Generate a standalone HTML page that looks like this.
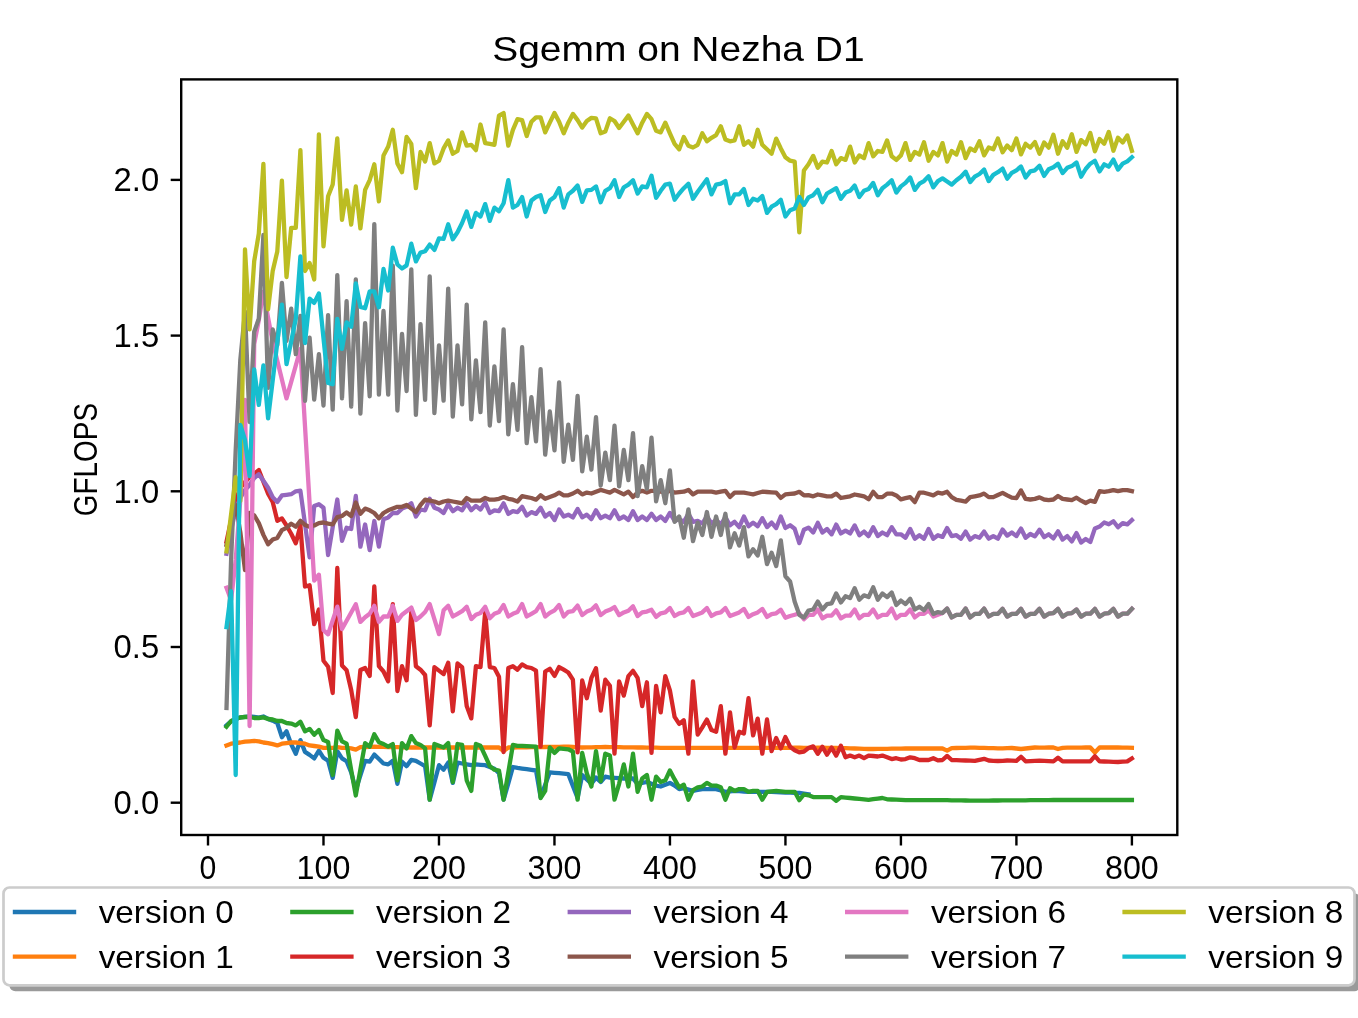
<!DOCTYPE html>
<html><head><meta charset="utf-8"><title>Sgemm on Nezha D1</title><style>html,body{margin:0;padding:0;background:#fff;width:1358px;height:1018px;overflow:hidden}</style></head><body>
<svg width="1358" height="1018" viewBox="0 0 1358 1018" style="display:block;will-change:transform">
<rect x="0" y="0" width="1358" height="1018" fill="#ffffff"/>
<defs><clipPath id="ax"><rect x="181.2" y="79.4" width="996.0999999999999" height="755.6"/></clipPath></defs>
<g clip-path="url(#ax)" fill="none" stroke-linejoin="round" stroke-linecap="square">
<polyline points="226.5,725.4 231.1,721.3 235.7,718.9 240.3,717.4 245.0,716.9 249.6,716.5 254.2,716.9 258.8,717.7 263.4,716.5 268.1,718.9 272.7,720.7 277.3,723.0 281.9,737.2 286.5,731.3 291.2,744.2 295.8,753.7 300.4,740.1 305.0,751.9 309.6,754.9 314.2,758.4 318.9,750.7 323.5,757.8 328.1,760.8 332.7,777.9 337.3,751.3 342.0,758.4 346.6,761.3 351.2,772.5 355.8,790.0 360.4,775.4 365.1,760.8 369.7,761.7 374.3,754.6 378.9,759.0 383.5,763.5 388.2,764.4 392.8,760.8 397.4,783.8 402.0,761.7 406.6,766.1 411.3,759.9 415.9,760.8 420.5,763.5 425.1,766.1 429.7,799.7 434.4,782.5 439.0,765.2 443.6,769.7 448.2,762.6 452.8,782.9 457.5,762.6 462.1,763.5 466.7,764.4 471.3,765.2 475.9,764.4 480.5,764.8 485.2,765.2 489.8,767.0 494.4,768.8 499.0,773.2 503.6,799.7 508.3,783.4 512.9,767.0 517.5,767.9 522.1,768.6 526.7,769.2 531.4,769.9 536.0,770.5 540.6,797.1 545.2,784.7 549.8,772.3 554.5,772.8 559.1,773.2 563.7,773.6 568.3,774.1 572.9,786.0 577.6,798.0 582.2,775.0 586.8,779.4 591.4,783.8 596.0,777.6 600.7,782.0 605.3,776.7 609.9,777.6 614.5,777.9 619.1,778.2 623.8,778.5 628.4,778.5 633.0,778.5 637.6,783.8 642.2,782.9 646.9,782.0 651.5,783.8 656.1,785.6 660.7,786.5 665.3,784.7 669.9,782.9 674.6,785.6 679.2,789.1 683.8,788.2 688.4,789.6 693.0,790.9 697.7,790.0 702.3,789.1 706.9,789.1 711.5,789.1 716.1,789.1 720.8,790.4 725.4,791.8 730.0,791.3 734.6,790.9 739.2,791.2 743.9,791.5 748.5,791.8 753.1,791.8 757.7,791.8 762.3,791.8 767.0,791.8 771.6,791.9 776.2,792.1 780.8,792.3 785.4,792.5 790.1,792.6 794.7,792.8 799.3,793.0 803.9,793.7 808.5,794.4" stroke="#1f77b4" stroke-width="4.3"/>
<polyline points="226.5,745.4 231.1,743.7 235.7,743.1 240.3,742.5 245.0,741.7 249.6,741.3 254.2,740.9 258.8,741.3 263.4,742.5 268.1,743.1 272.7,744.2 277.3,745.4 281.9,743.7 286.5,743.1 291.2,742.5 295.8,742.5 300.4,743.1 305.0,743.7 309.6,745.4 314.2,746.0 318.9,746.6 323.5,747.8 328.1,747.8 332.7,747.8 337.3,747.2 342.0,747.8 346.6,747.8 351.2,748.4 355.8,749.6 360.4,747.2 365.1,747.0 369.7,746.8 374.3,746.7 378.9,746.8 383.5,746.9 388.2,747.0 392.8,747.1 397.4,747.2 402.0,747.3 406.6,747.4 411.3,747.5 415.9,747.5 420.5,747.5 425.1,747.5 429.7,747.5 434.4,747.5 439.0,747.5 443.6,747.5 448.2,747.5 452.8,747.5 457.5,747.5 462.1,747.5 466.7,747.5 471.3,747.5 475.9,747.5 480.5,747.5 485.2,747.5 489.8,747.5 494.4,747.5 499.0,747.5 503.6,751.1 508.3,747.5 512.9,747.5 517.5,747.4 522.1,747.3 526.7,747.3 531.4,747.2 536.0,747.1 540.6,747.1 545.2,747.0 549.8,746.9 554.5,746.9 559.1,746.8 563.7,746.7 568.3,746.7 572.9,747.0 577.6,747.3 582.2,747.5 586.8,747.4 591.4,747.3 596.0,747.2 600.7,747.1 605.3,747.0 609.9,747.1 614.5,747.2 619.1,747.2 623.8,747.3 628.4,747.3 633.0,747.4 637.6,747.5 642.2,747.5 646.9,747.6 651.5,747.6 656.1,747.7 660.7,747.8 665.3,747.8 669.9,747.9 674.6,747.9 679.2,747.9 683.8,747.9 688.4,747.9 693.0,747.9 697.7,747.9 702.3,747.9 706.9,747.9 711.5,747.9 716.1,747.9 720.8,747.9 725.4,747.9 730.0,747.9 734.6,747.9 739.2,747.9 743.9,747.9 748.5,747.9 753.1,747.9 757.7,747.9 762.3,747.9 767.0,747.9 771.6,747.9 776.2,747.9 780.8,747.9 785.4,747.8 790.1,747.8 794.7,747.7 799.3,747.6 803.9,747.8 808.5,747.9 813.2,747.8 817.8,747.6 822.4,747.7 827.0,747.8 831.6,747.9 836.2,748.0 840.9,748.1 845.5,748.1 850.1,748.3 854.7,748.5 859.3,748.7 864.0,748.9 868.6,749.0 873.2,749.0 877.8,748.9 882.4,748.8 887.1,748.8 891.7,748.7 896.3,748.6 900.9,748.6 905.5,748.5 910.2,748.5 914.8,748.5 919.4,748.5 924.0,748.5 928.6,748.5 933.3,748.5 937.9,748.5 942.5,748.5 947.1,750.6 951.7,748.1 956.4,748.0 961.0,747.9 965.6,747.8 970.2,747.7 974.8,747.6 979.5,747.8 984.1,747.9 988.7,748.1 993.3,748.2 997.9,748.4 1002.6,748.3 1007.2,748.1 1011.8,748.0 1016.4,748.5 1021.0,749.0 1025.6,748.5 1030.3,748.0 1034.9,747.5 1039.5,747.6 1044.1,747.6 1048.7,747.5 1053.4,747.5 1058.0,749.0 1062.6,747.8 1067.2,747.7 1071.8,747.7 1076.5,747.6 1081.1,747.6 1085.7,747.5 1090.3,747.5 1094.9,752.5 1099.6,747.5 1104.2,747.5 1108.8,747.5 1113.4,747.5 1118.0,747.5 1122.7,747.6 1127.3,747.7 1131.9,747.8" stroke="#ff7f0e" stroke-width="4.3"/>
<polyline points="226.5,726.6 231.1,721.0 235.7,719.0 240.3,717.5 245.0,717.0 249.6,717.0 254.2,718.0 258.8,718.0 263.4,717.4 268.1,719.0 272.7,719.5 277.3,721.0 281.9,721.0 286.5,723.0 291.2,723.6 295.8,725.4 300.4,721.8 305.0,731.3 309.6,728.9 314.2,734.8 318.9,730.1 323.5,740.1 328.1,741.9 332.7,774.9 337.3,730.7 342.0,741.3 346.6,743.7 351.2,770.0 355.8,795.5 360.4,769.3 365.1,743.1 369.7,746.7 374.3,734.3 378.9,742.2 383.5,744.0 388.2,746.7 392.8,744.0 397.4,780.3 402.0,743.1 406.6,748.4 411.3,736.1 415.9,743.1 420.5,744.9 425.1,748.4 429.7,799.7 434.4,744.0 439.0,745.8 443.6,747.5 448.2,743.1 452.8,782.0 457.5,744.0 462.1,744.9 466.7,780.3 471.3,790.9 475.9,744.0 480.5,745.8 485.2,755.9 489.8,766.1 494.4,769.7 499.0,770.5 503.6,799.7 508.3,772.3 512.9,744.9 517.5,745.8 522.1,745.8 526.7,746.1 531.4,746.4 536.0,746.7 540.6,798.0 545.2,790.9 549.8,747.5 554.5,752.9 559.1,748.4 563.7,748.9 568.3,749.3 572.9,751.5 577.6,799.7 582.2,752.9 586.8,773.2 591.4,786.5 596.0,751.1 600.7,781.2 605.3,753.7 609.9,755.5 614.5,799.7 619.1,783.8 623.8,764.4 628.4,786.5 633.0,753.7 637.6,791.8 642.2,778.5 646.9,775.0 651.5,799.7 656.1,776.7 660.7,782.0 665.3,780.3 669.9,770.5 674.6,779.4 679.2,787.3 683.8,784.7 688.4,799.7 693.0,790.0 697.7,787.3 702.3,786.5 706.9,782.9 711.5,785.6 716.1,785.6 720.8,787.3 725.4,799.7 730.0,788.2 734.6,790.9 739.2,789.1 743.9,789.1 748.5,791.8 753.1,790.9 757.7,790.9 762.3,799.7 767.0,791.8 771.6,791.3 776.2,790.9 780.8,791.3 785.4,791.8 790.1,791.8 794.7,791.8 799.3,800.2 803.9,794.5 808.5,795.3 813.2,797.1 817.8,797.1 822.4,797.1 827.0,797.1 831.6,797.1 836.2,800.7 840.9,797.1 845.5,797.6 850.1,798.0 854.7,798.5 859.3,798.9 864.0,799.3 868.6,799.8 873.2,799.2 877.8,798.6 882.4,798.0 887.1,799.3 891.7,799.5 896.3,799.7 900.9,799.9 905.5,800.1 910.2,800.1 914.8,800.1 919.4,800.1 924.0,800.1 928.6,800.1 933.3,800.1 937.9,800.1 942.5,800.1 947.1,800.2 951.7,800.3 956.4,800.4 961.0,800.4 965.6,800.5 970.2,800.6 974.8,800.7 979.5,800.6 984.1,800.6 988.7,800.6 993.3,800.5 997.9,800.5 1002.6,800.4 1007.2,800.4 1011.8,800.4 1016.4,800.3 1021.0,800.3 1025.6,800.3 1030.3,800.2 1034.9,800.2 1039.5,800.1 1044.1,800.1 1048.7,800.1 1053.4,800.0 1058.0,800.0 1062.6,800.0 1067.2,800.0 1071.8,800.0 1076.5,800.0 1081.1,800.0 1085.7,800.0 1090.3,800.0 1094.9,800.0 1099.6,800.0 1104.2,800.0 1108.8,800.0 1113.4,800.0 1118.0,800.0 1122.7,800.0 1127.3,800.0 1131.9,800.0" stroke="#2ca02c" stroke-width="4.3"/>
<polyline points="226.5,541.6 231.1,520.0 235.7,500.0 240.3,488.0 245.0,482.0 249.6,477.0 254.2,474.0 258.8,470.0 263.4,481.8 268.1,493.6 272.7,501.9 277.3,520.8 281.9,518.4 286.5,525.5 291.2,533.7 295.8,543.2 300.4,525.5 305.0,586.5 309.6,585.3 314.2,624.2 318.9,609.5 323.5,660.8 328.1,666.7 332.7,693.0 337.3,568.0 342.0,665.5 346.6,670.2 351.2,690.0 355.8,717.1 360.4,670.0 365.1,668.0 369.7,675.9 374.3,586.4 378.9,666.2 383.5,671.5 388.2,681.2 392.8,604.1 397.4,691.0 402.0,666.2 406.6,680.3 411.3,612.0 415.9,666.2 420.5,669.7 425.1,675.0 429.7,725.4 434.4,667.1 439.0,670.6 443.6,674.1 448.2,662.7 452.8,711.3 457.5,663.5 462.1,667.1 466.7,706.0 471.3,718.4 475.9,666.2 480.5,667.1 485.2,612.0 489.8,667.1 494.4,668.0 499.0,676.8 503.6,752.0 508.3,668.0 512.9,666.2 517.5,669.7 522.1,664.4 526.7,667.1 531.4,668.0 536.0,670.6 540.6,746.7 545.2,671.5 549.8,668.8 554.5,675.9 559.1,667.1 563.7,669.7 568.3,672.5 572.9,679.6 577.6,752.4 582.2,680.5 586.8,698.2 591.4,677.9 596.0,668.2 600.7,710.6 605.3,679.7 609.9,685.8 614.5,753.7 619.1,681.4 623.8,695.6 628.4,676.1 633.0,670.8 637.6,677.9 642.2,706.2 646.9,682.3 651.5,752.9 656.1,685.8 660.7,712.4 665.3,676.1 669.9,690.3 674.6,716.8 679.2,723.9 683.8,720.3 688.4,753.7 693.0,681.4 697.7,734.5 702.3,727.4 706.9,719.5 711.5,730.1 716.1,731.8 720.8,706.2 725.4,753.7 730.0,712.4 734.6,747.5 739.2,731.8 743.9,733.6 748.5,698.2 753.1,735.4 757.7,718.6 762.3,753.7 767.0,719.5 771.6,751.1 776.2,738.0 780.8,748.4 785.4,737.1 790.1,746.7 794.7,750.2 799.3,752.4 803.9,751.6 808.5,748.0 813.2,746.4 817.8,753.8 822.4,746.7 827.0,754.7 831.6,747.6 836.2,755.6 840.9,745.8 845.5,757.3 850.1,755.6 854.7,757.3 859.3,755.6 864.0,758.2 868.6,755.6 873.2,756.0 877.8,756.5 882.4,755.6 887.1,757.3 891.7,759.1 896.3,758.2 900.9,759.5 905.5,759.1 910.2,757.3 914.8,758.2 919.4,760.0 924.0,760.0 928.6,760.0 933.3,758.2 937.9,760.4 942.5,760.0 947.1,755.9 951.7,760.0 956.4,760.2 961.0,760.4 965.6,760.5 970.2,760.7 974.8,760.9 979.5,759.8 984.1,758.8 988.7,760.5 993.3,760.8 997.9,761.0 1002.6,760.8 1007.2,760.5 1011.8,760.7 1016.4,760.8 1021.0,756.8 1025.6,761.3 1030.3,761.1 1034.9,760.9 1039.5,760.7 1044.1,760.9 1048.7,761.1 1053.4,761.4 1058.0,757.8 1062.6,761.4 1067.2,761.4 1071.8,761.4 1076.5,761.4 1081.1,761.4 1085.7,761.4 1090.3,761.4 1094.9,756.1 1099.6,761.4 1104.2,761.5 1108.8,761.7 1113.4,761.8 1118.0,762.0 1122.7,761.7 1127.3,761.4 1131.9,758.4" stroke="#d62728" stroke-width="4.3"/>
<polyline points="226.5,553.8 231.1,530.0 235.7,510.0 240.3,498.0 245.0,490.0 249.6,485.0 254.2,478.0 258.8,474.2 263.4,480.7 268.1,487.7 272.7,497.2 277.3,501.9 281.9,495.4 286.5,494.8 291.2,494.2 295.8,491.3 300.4,490.7 305.0,524.0 309.6,557.3 314.2,506.0 318.9,504.2 323.5,507.8 328.1,555.0 332.7,527.2 337.3,499.5 342.0,540.8 346.6,527.8 351.2,529.0 355.8,496.0 360.4,546.7 365.1,524.5 369.7,550.1 374.3,521.0 378.9,546.6 383.5,519.2 388.2,517.4 392.8,513.0 397.4,513.0 402.0,508.6 406.6,506.8 411.3,503.3 415.9,516.5 420.5,509.5 425.1,510.3 429.7,498.8 434.4,507.7 439.0,509.5 443.6,513.0 448.2,504.1 452.8,511.2 457.5,507.7 462.1,510.3 466.7,503.3 471.3,510.3 475.9,505.9 480.5,509.5 485.2,502.4 489.8,513.0 494.4,510.3 499.0,511.2 503.6,503.3 508.3,513.9 512.9,511.2 517.5,512.1 522.1,506.8 526.7,515.6 531.4,512.1 536.0,513.9 540.6,507.7 545.2,516.5 549.8,513.0 554.5,520.1 559.1,509.5 563.7,516.5 568.3,514.7 572.9,517.4 577.6,509.0 582.2,517.3 586.8,514.7 591.4,519.1 596.0,510.3 600.7,518.2 605.3,515.6 609.9,518.2 614.5,510.3 619.1,519.1 623.8,516.5 628.4,520.0 633.0,511.2 637.6,520.0 642.2,516.5 646.9,520.0 651.5,513.8 656.1,520.0 660.7,516.5 665.3,520.9 669.9,512.9 674.6,520.9 679.2,519.1 683.8,521.8 688.4,513.8 693.0,521.8 697.7,520.9 702.3,523.5 706.9,516.5 711.5,523.5 716.1,520.0 720.8,524.4 725.4,517.3 730.0,525.3 734.6,521.8 739.2,527.1 743.9,516.5 748.5,526.2 753.1,522.6 757.7,526.2 762.3,518.2 767.0,527.1 771.6,522.6 776.2,528.0 780.8,516.5 785.4,528.0 790.1,525.3 794.7,528.8 799.3,543.1 803.9,529.8 808.5,527.6 813.2,532.5 817.8,522.8 822.4,532.5 827.0,529.0 831.6,534.3 836.2,524.6 840.9,533.4 845.5,530.7 850.1,533.4 854.7,525.4 859.3,535.2 864.0,531.6 868.6,536.1 873.2,527.2 877.8,536.1 882.4,532.5 887.1,535.2 891.7,527.2 896.3,534.3 900.9,534.3 905.5,537.8 910.2,529.0 914.8,538.7 919.4,535.2 924.0,538.7 928.6,529.0 933.3,538.7 937.9,535.2 942.5,536.9 947.1,528.1 951.7,536.1 956.4,535.2 961.0,538.7 965.6,531.6 970.2,539.6 974.8,536.1 979.5,537.8 984.1,531.6 988.7,538.7 993.3,536.1 997.9,538.7 1002.6,529.6 1007.2,535.6 1011.8,532.5 1016.4,536.1 1021.0,528.5 1025.6,537.8 1030.3,534.0 1034.9,536.4 1039.5,529.7 1044.1,537.2 1048.7,534.3 1053.4,538.4 1058.0,531.3 1062.6,539.6 1067.2,536.1 1071.8,541.4 1076.5,533.1 1081.1,542.5 1085.7,539.0 1090.3,542.0 1094.9,528.4 1099.6,526.6 1104.2,522.5 1108.8,524.3 1113.4,521.3 1118.0,527.2 1122.7,523.1 1127.3,524.3 1131.9,520.1" stroke="#9467bd" stroke-width="4.3"/>
<polyline points="226.5,545.0 231.1,525.0 235.7,505.0 240.3,532.0 245.0,570.0 249.6,513.0 254.2,515.4 258.8,523.1 263.4,534.9 268.1,544.3 272.7,539.6 277.3,537.9 281.9,530.2 286.5,527.8 291.2,523.7 295.8,526.7 300.4,520.8 305.0,524.9 309.6,526.7 314.2,525.5 318.9,523.1 323.5,522.5 328.1,523.7 332.7,524.3 337.3,517.2 342.0,516.0 346.6,512.5 351.2,516.0 355.8,502.5 360.4,513.7 365.1,508.6 369.7,510.3 374.3,513.0 378.9,518.3 383.5,513.0 388.2,510.3 392.8,508.6 397.4,506.8 402.0,506.8 406.6,505.0 411.3,508.6 415.9,512.1 420.5,505.0 425.1,499.7 429.7,500.6 434.4,501.5 439.0,503.3 443.6,501.5 448.2,500.6 452.8,501.5 457.5,502.4 462.1,503.3 466.7,498.0 471.3,500.6 475.9,500.6 480.5,500.6 485.2,498.0 489.8,499.7 494.4,499.7 499.0,498.8 503.6,497.1 508.3,498.8 512.9,499.7 517.5,501.5 522.1,496.2 526.7,497.1 531.4,498.0 536.0,499.7 540.6,495.3 545.2,498.8 549.8,497.1 554.5,495.3 559.1,492.7 563.7,495.3 568.3,495.3 572.9,493.5 577.6,490.8 582.2,494.4 586.8,492.6 591.4,493.5 596.0,491.7 600.7,489.9 605.3,491.3 609.9,492.6 614.5,489.9 619.1,492.1 623.8,494.4 628.4,491.7 633.0,497.0 637.6,492.6 642.2,490.8 646.9,492.6 651.5,490.8 656.1,490.8 660.7,491.7 665.3,492.6 669.9,490.8 674.6,492.6 679.2,492.1 683.8,491.7 688.4,489.9 693.0,494.4 697.7,491.7 702.3,491.7 706.9,491.7 711.5,491.7 716.1,492.6 720.8,491.7 725.4,490.8 730.0,497.0 734.6,492.6 739.2,492.6 743.9,492.6 748.5,493.5 753.1,494.4 757.7,493.0 762.3,491.7 767.0,492.0 771.6,492.3 776.2,492.6 780.8,497.9 785.4,494.4 790.1,493.9 794.7,493.5 799.3,491.8 803.9,495.3 808.5,495.2 813.2,496.3 817.8,494.5 822.4,495.4 827.0,496.3 831.6,496.3 836.2,493.6 840.9,498.0 845.5,497.1 850.1,496.3 854.7,494.5 859.3,495.4 864.0,496.3 868.6,499.3 873.2,491.8 877.8,497.1 882.4,497.1 887.1,493.6 891.7,493.6 896.3,495.4 900.9,499.3 905.5,498.2 910.2,497.1 914.8,502.1 919.4,492.7 924.0,492.7 928.6,494.0 933.3,495.4 937.9,492.7 942.5,493.6 947.1,491.8 951.7,497.1 956.4,499.8 961.0,500.7 965.6,501.6 970.2,497.1 974.8,496.3 979.5,495.4 984.1,493.6 988.7,497.1 993.3,497.1 997.9,495.0 1002.6,492.9 1007.2,495.4 1011.8,497.7 1016.4,498.2 1021.0,490.4 1025.6,498.9 1030.3,499.5 1034.9,498.9 1039.5,497.4 1044.1,499.5 1048.7,500.1 1053.4,499.5 1058.0,496.0 1062.6,498.9 1067.2,499.5 1071.8,500.1 1076.5,497.7 1081.1,500.7 1085.7,503.0 1090.3,500.7 1094.9,501.9 1099.6,491.2 1104.2,491.8 1108.8,491.2 1113.4,490.1 1118.0,491.2 1122.7,490.1 1127.3,490.1 1131.9,491.2" stroke="#8c564b" stroke-width="4.3"/>
<polyline points="226.5,587.7 231.1,600.0 235.7,560.0 240.3,500.0 245.0,400.0 249.6,726.0 254.2,344.0 258.8,320.0 263.4,291.6 268.1,318.0 272.7,341.8 277.3,360.7 281.9,379.5 286.5,398.4 291.2,381.9 295.8,365.5 300.4,349.0 305.0,426.2 309.6,503.4 314.2,580.6 318.9,574.7 323.5,630.1 328.1,634.3 332.7,620.5 337.3,606.6 342.0,629.0 346.6,620.7 351.2,612.5 355.8,604.2 360.4,621.9 365.1,617.3 369.7,613.8 374.3,605.8 378.9,621.8 383.5,616.5 388.2,616.5 392.8,605.8 397.4,620.9 402.0,614.7 406.6,611.2 411.3,607.6 415.9,620.0 420.5,616.5 425.1,612.0 429.7,604.1 434.4,619.1 439.0,634.1 443.6,610.3 448.2,605.8 452.8,616.5 457.5,613.8 462.1,611.2 466.7,606.7 471.3,619.1 475.9,614.7 480.5,612.9 485.2,606.7 489.8,618.2 494.4,613.8 499.0,612.0 503.6,605.0 508.3,616.5 512.9,613.8 517.5,612.0 522.1,604.1 526.7,616.5 531.4,613.8 536.0,611.2 540.6,604.1 545.2,616.5 549.8,612.9 554.5,610.3 559.1,605.0 563.7,616.5 568.3,611.8 572.9,611.2 577.6,605.6 582.2,615.1 586.8,611.6 591.4,609.8 596.0,605.4 600.7,615.1 605.3,611.6 609.9,609.8 614.5,607.1 619.1,615.1 623.8,612.4 628.4,610.7 633.0,606.3 637.6,616.0 642.2,612.4 646.9,611.6 651.5,609.8 656.1,616.9 660.7,613.3 665.3,612.4 669.9,608.0 674.6,616.0 679.2,613.3 683.8,612.4 688.4,608.0 693.0,616.0 697.7,614.2 702.3,612.4 706.9,608.0 711.5,616.0 716.1,613.3 720.8,612.4 725.4,608.0 730.0,616.0 734.6,614.2 739.2,612.4 743.9,608.9 748.5,616.9 753.1,614.2 757.7,612.4 762.3,608.9 767.0,616.9 771.6,614.2 776.2,613.3 780.8,609.8 785.4,617.8 790.1,616.0 794.7,614.7 799.3,613.3 803.9,619.2 808.5,614.9 813.2,614.8 817.8,609.5 822.4,618.3 827.0,615.6 831.6,615.6 836.2,610.3 840.9,618.3 845.5,615.6 850.1,615.6 854.7,609.5 859.3,618.3 864.0,614.8 868.6,614.8 873.2,609.5 877.8,617.4 882.4,614.8 887.1,614.8 891.7,608.6 896.3,618.3 900.9,614.8 905.5,614.8 910.2,609.5 914.8,617.4 919.4,613.9 924.0,613.9 928.6,610.3 933.3,616.5 937.9,614.8 942.5,613.0 947.1,608.6 951.7,617.4 956.4,614.8 961.0,614.8 965.6,608.6 970.2,617.4 974.8,613.9 979.5,613.9 984.1,608.6 988.7,616.5 993.3,613.9 997.9,613.9 1002.6,608.8 1007.2,616.6 1011.8,613.8 1016.4,613.8 1021.0,608.8 1025.6,616.6 1030.3,613.8 1034.9,613.8 1039.5,608.8 1044.1,616.6 1048.7,613.7 1053.4,613.1 1058.0,608.9 1062.6,616.6 1067.2,613.7 1071.8,613.1 1076.5,609.5 1081.1,616.6 1085.7,613.7 1090.3,613.7 1094.9,608.9 1099.6,616.6 1104.2,613.7 1108.8,613.1 1113.4,608.9 1118.0,616.6 1122.7,613.7 1127.3,613.7 1131.9,608.9" stroke="#e377c2" stroke-width="4.3"/>
<polyline points="226.5,708.0 231.1,560.0 235.7,450.0 240.3,360.0 245.0,311.7 249.6,422.0 254.2,331.7 258.8,318.8 263.4,235.0 268.1,387.8 272.7,329.4 277.3,345.0 281.9,282.8 286.5,341.0 291.2,308.7 295.8,354.2 300.4,315.8 305.0,400.8 309.6,337.7 314.2,399.6 318.9,354.2 323.5,405.5 328.1,315.2 332.7,409.6 337.3,275.1 342.0,398.4 346.6,301.1 351.2,406.7 355.8,279.3 360.4,413.7 365.1,323.2 369.7,396.3 374.3,224.1 378.9,394.6 383.5,310.8 388.2,394.6 392.8,265.7 397.4,410.5 402.0,333.8 406.6,391.0 411.3,269.3 415.9,414.9 420.5,324.1 425.1,399.9 429.7,276.3 434.4,413.1 439.0,345.3 443.6,400.7 448.2,288.7 452.8,416.7 457.5,345.3 462.1,404.3 466.7,304.6 471.3,419.3 475.9,360.3 480.5,412.2 485.2,322.3 489.8,425.5 494.4,366.5 499.0,421.1 503.6,329.4 508.3,434.4 512.9,384.2 517.5,429.9 522.1,347.1 526.7,443.2 531.4,397.2 536.0,441.4 540.6,369.2 545.2,454.7 549.8,411.4 554.5,450.3 559.1,382.4 563.7,461.8 568.3,424.6 572.9,459.9 577.6,395.8 582.2,471.4 586.8,436.7 591.4,469.6 596.0,417.2 600.7,485.5 605.3,452.6 609.9,480.2 614.5,425.6 619.1,486.4 623.8,450.0 628.4,480.2 633.0,433.2 637.6,496.1 642.2,466.1 646.9,489.0 651.5,437.6 656.1,501.4 660.7,480.2 665.3,503.2 669.9,470.5 674.6,521.8 679.2,516.5 683.8,537.7 688.4,509.4 693.0,541.2 697.7,522.6 702.3,535.0 706.9,512.0 711.5,536.8 716.1,516.5 720.8,535.0 725.4,513.8 730.0,547.4 734.6,533.3 739.2,545.6 743.9,527.1 748.5,556.3 753.1,549.2 757.7,555.4 762.3,536.8 767.0,564.2 771.6,552.7 776.2,566.0 780.8,540.3 785.4,576.2 790.1,581.5 794.7,601.8 799.3,614.8 803.9,617.6 808.5,610.5 813.2,609.5 817.8,601.5 822.4,609.5 827.0,604.1 831.6,603.3 836.2,593.5 840.9,602.4 845.5,596.2 850.1,598.0 854.7,588.2 859.3,599.7 864.0,595.3 868.6,597.1 873.2,587.3 877.8,599.7 882.4,593.5 887.1,597.1 891.7,592.6 896.3,605.0 900.9,600.6 905.5,604.1 910.2,598.8 914.8,609.5 919.4,606.8 924.0,610.3 928.6,604.1 933.3,613.9 937.9,612.1 942.5,613.0 947.1,608.6 951.7,617.4 956.4,614.8 961.0,614.8 965.6,608.6 970.2,617.4 974.8,613.9 979.5,613.9 984.1,608.6 988.7,616.5 993.3,613.9 997.9,613.9 1002.6,608.8 1007.2,616.6 1011.8,613.8 1016.4,613.8 1021.0,608.8 1025.6,616.6 1030.3,613.8 1034.9,613.8 1039.5,608.8 1044.1,616.6 1048.7,613.7 1053.4,613.1 1058.0,608.9 1062.6,616.6 1067.2,613.7 1071.8,613.1 1076.5,609.5 1081.1,616.6 1085.7,613.7 1090.3,613.7 1094.9,608.9 1099.6,616.6 1104.2,613.7 1108.8,613.1 1113.4,608.9 1118.0,616.6 1122.7,613.7 1127.3,613.7 1131.9,608.9" stroke="#7f7f7f" stroke-width="4.3"/>
<polyline points="226.5,551.4 231.1,514.2 235.7,477.1 240.3,501.0 245.0,249.4 249.6,329.4 254.2,261.2 258.8,233.7 263.4,163.9 268.1,309.3 272.7,271.0 277.3,251.4 281.9,180.6 286.5,277.0 291.2,227.8 295.8,227.8 300.4,150.1 305.0,271.0 309.6,263.1 314.2,279.5 318.9,134.4 323.5,246.4 328.1,196.3 332.7,184.5 337.3,138.3 342.0,219.9 346.6,190.4 351.2,224.6 355.8,186.4 360.4,228.4 365.1,189.9 369.7,180.2 374.3,164.3 378.9,201.4 383.5,155.4 388.2,146.6 392.8,129.8 397.4,163.4 402.0,172.2 406.6,136.9 411.3,143.9 415.9,188.2 420.5,151.9 425.1,161.6 429.7,143.1 434.4,163.4 439.0,160.7 443.6,148.4 448.2,140.4 452.8,153.7 457.5,151.0 462.1,132.4 466.7,145.7 471.3,144.8 475.9,150.1 480.5,124.5 485.2,143.1 489.8,143.9 494.4,144.8 499.0,115.6 503.6,113.0 508.3,145.7 512.9,129.8 517.5,119.2 522.1,120.1 526.7,136.0 531.4,121.8 536.0,117.4 540.6,117.4 545.2,132.4 549.8,122.7 554.5,113.0 559.1,121.8 563.7,133.3 568.3,122.7 572.9,113.9 577.6,120.1 582.2,127.6 586.8,121.0 591.4,117.9 596.0,118.3 600.7,133.3 605.3,131.6 609.9,118.3 614.5,121.0 619.1,128.0 623.8,121.8 628.4,115.6 633.0,124.5 637.6,133.3 642.2,122.7 646.9,113.9 651.5,119.2 656.1,130.7 660.7,132.4 665.3,122.7 669.9,133.3 674.6,143.9 679.2,149.3 683.8,136.9 688.4,145.7 693.0,147.5 697.7,144.8 702.3,133.3 706.9,141.3 711.5,137.8 716.1,135.1 720.8,126.3 725.4,139.5 730.0,141.3 734.6,140.4 739.2,126.3 743.9,144.8 748.5,141.3 753.1,146.6 757.7,129.8 762.3,144.8 767.0,149.3 771.6,153.7 776.2,138.6 780.8,148.4 785.4,157.2 790.1,160.7 794.7,161.6 799.3,232.4 803.9,170.5 808.5,164.3 813.2,155.9 817.8,167.8 822.4,161.6 827.0,162.5 831.6,151.0 836.2,164.3 840.9,158.1 845.5,159.9 850.1,146.6 854.7,162.5 859.3,155.4 864.0,158.1 868.6,143.1 873.2,156.3 877.8,151.0 882.4,151.9 887.1,140.4 891.7,156.3 896.3,159.9 900.9,155.4 905.5,143.1 910.2,159.9 914.8,151.9 919.4,154.6 924.0,142.2 928.6,160.7 933.3,151.9 937.9,155.4 942.5,143.1 947.1,161.6 951.7,151.0 956.4,154.6 961.0,142.2 965.6,158.1 970.2,148.4 974.8,151.0 979.5,141.3 984.1,155.4 988.7,147.5 993.3,149.3 997.9,138.6 1002.6,152.2 1007.2,145.6 1011.8,150.1 1016.4,138.5 1021.0,154.4 1025.6,143.8 1030.3,147.6 1034.9,142.0 1039.5,153.7 1044.1,142.5 1048.7,147.6 1053.4,134.8 1058.0,153.7 1062.6,141.3 1067.2,147.8 1071.8,134.2 1076.5,151.9 1081.1,140.1 1085.7,144.2 1090.3,133.0 1094.9,151.3 1099.6,138.9 1104.2,143.7 1108.8,131.9 1113.4,150.7 1118.0,137.8 1122.7,142.5 1127.3,135.4 1131.9,150.7" stroke="#bcbd22" stroke-width="4.3"/>
<polyline points="226.5,627.2 231.1,591.2 235.7,775.0 240.3,425.0 245.0,440.0 249.6,476.0 254.2,369.5 258.8,404.9 263.4,365.4 268.1,418.4 272.7,380.5 277.3,342.5 281.9,304.6 286.5,364.2 291.2,341.5 295.8,318.8 300.4,256.3 305.0,343.0 309.6,298.7 314.2,302.9 318.9,293.4 323.5,338.2 328.1,383.0 332.7,384.2 337.3,318.8 342.0,348.9 346.6,322.3 351.2,326.7 355.8,283.4 360.4,307.0 365.1,308.2 369.7,291.4 374.3,291.4 378.9,307.3 383.5,268.9 388.2,290.5 392.8,247.7 397.4,264.5 402.0,268.5 406.6,265.4 411.3,243.7 415.9,261.4 420.5,252.6 425.1,251.3 429.7,244.6 434.4,249.9 439.0,238.4 443.6,238.9 448.2,224.3 452.8,239.3 457.5,232.2 462.1,223.0 466.7,211.5 471.3,226.9 475.9,212.9 480.5,216.5 485.2,204.1 489.8,220.9 494.4,207.6 499.0,211.2 503.6,203.2 508.3,180.2 512.9,207.6 517.5,205.0 522.1,197.0 526.7,216.5 531.4,200.5 536.0,197.0 540.6,195.2 545.2,212.0 549.8,200.5 554.5,197.0 559.1,188.2 563.7,207.6 568.3,194.4 572.9,190.8 577.6,185.5 582.2,201.9 586.8,190.4 591.4,189.9 596.0,186.4 600.7,202.3 605.3,190.8 609.9,188.2 614.5,180.2 619.1,197.0 623.8,187.3 628.4,184.6 633.0,180.2 637.6,193.5 642.2,186.4 646.9,187.3 651.5,175.8 656.1,197.9 660.7,190.8 665.3,184.6 669.9,183.7 674.6,199.7 679.2,193.5 683.8,188.2 688.4,183.7 693.0,198.8 697.7,191.7 702.3,185.5 706.9,179.3 711.5,194.4 716.1,184.6 720.8,183.7 725.4,181.1 730.0,203.2 734.6,194.4 739.2,194.4 743.9,189.0 748.5,205.0 753.1,198.8 757.7,200.5 762.3,196.1 767.0,212.9 771.6,206.7 776.2,204.1 780.8,199.7 785.4,216.5 790.1,210.3 794.7,208.5 799.3,197.0 803.9,205.0 808.5,197.4 813.2,195.2 817.8,189.9 822.4,202.3 827.0,193.5 831.6,190.8 836.2,188.2 840.9,198.8 845.5,192.6 850.1,190.8 854.7,185.5 859.3,197.0 864.0,190.8 868.6,189.0 873.2,182.9 877.8,195.2 882.4,188.2 887.1,184.6 891.7,180.2 896.3,192.6 900.9,186.4 905.5,182.9 910.2,177.5 914.8,189.9 919.4,183.7 924.0,181.1 928.6,176.3 933.3,187.3 937.9,181.1 942.5,178.4 947.1,181.5 951.7,184.6 956.4,180.2 961.0,176.7 965.6,171.7 970.2,182.0 974.8,176.7 979.5,174.0 984.1,169.6 988.7,181.1 993.3,174.9 997.9,172.2 1002.6,168.6 1007.2,178.7 1011.8,172.8 1016.4,170.3 1021.0,166.5 1025.6,177.4 1030.3,171.4 1034.9,170.3 1039.5,165.8 1044.1,175.9 1048.7,169.2 1053.4,167.2 1058.0,163.7 1062.6,173.1 1067.2,167.8 1071.8,166.1 1076.5,162.5 1081.1,176.7 1085.7,169.0 1090.3,163.7 1094.9,160.8 1099.6,171.4 1104.2,164.3 1108.8,166.7 1113.4,159.6 1118.0,169.6 1122.7,163.7 1127.3,161.3 1131.9,157.2" stroke="#17becf" stroke-width="4.3"/>
</g>
<rect x="181.2" y="79.4" width="996.0999999999999" height="755.6" fill="none" stroke="#000" stroke-width="2.4" stroke-linejoin="miter"/>
<line x1="208.00" y1="835.0" x2="208.00" y2="845.5" stroke="#000" stroke-width="2.4"/>
<text x="208.00" y="878.6" font-size="34" text-anchor="middle" font-family='"Liberation Sans", sans-serif' textLength="16.8" lengthAdjust="spacingAndGlyphs">0</text>
<line x1="323.49" y1="835.0" x2="323.49" y2="845.5" stroke="#000" stroke-width="2.4"/>
<text x="323.49" y="878.6" font-size="34" text-anchor="middle" font-family='"Liberation Sans", sans-serif' textLength="53.8" lengthAdjust="spacingAndGlyphs">100</text>
<line x1="438.97" y1="835.0" x2="438.97" y2="845.5" stroke="#000" stroke-width="2.4"/>
<text x="438.97" y="878.6" font-size="34" text-anchor="middle" font-family='"Liberation Sans", sans-serif' textLength="53.8" lengthAdjust="spacingAndGlyphs">200</text>
<line x1="554.46" y1="835.0" x2="554.46" y2="845.5" stroke="#000" stroke-width="2.4"/>
<text x="554.46" y="878.6" font-size="34" text-anchor="middle" font-family='"Liberation Sans", sans-serif' textLength="53.8" lengthAdjust="spacingAndGlyphs">300</text>
<line x1="669.95" y1="835.0" x2="669.95" y2="845.5" stroke="#000" stroke-width="2.4"/>
<text x="669.95" y="878.6" font-size="34" text-anchor="middle" font-family='"Liberation Sans", sans-serif' textLength="53.8" lengthAdjust="spacingAndGlyphs">400</text>
<line x1="785.44" y1="835.0" x2="785.44" y2="845.5" stroke="#000" stroke-width="2.4"/>
<text x="785.44" y="878.6" font-size="34" text-anchor="middle" font-family='"Liberation Sans", sans-serif' textLength="53.8" lengthAdjust="spacingAndGlyphs">500</text>
<line x1="900.92" y1="835.0" x2="900.92" y2="845.5" stroke="#000" stroke-width="2.4"/>
<text x="900.92" y="878.6" font-size="34" text-anchor="middle" font-family='"Liberation Sans", sans-serif' textLength="53.8" lengthAdjust="spacingAndGlyphs">600</text>
<line x1="1016.41" y1="835.0" x2="1016.41" y2="845.5" stroke="#000" stroke-width="2.4"/>
<text x="1016.41" y="878.6" font-size="34" text-anchor="middle" font-family='"Liberation Sans", sans-serif' textLength="53.8" lengthAdjust="spacingAndGlyphs">700</text>
<line x1="1131.90" y1="835.0" x2="1131.90" y2="845.5" stroke="#000" stroke-width="2.4"/>
<text x="1131.90" y="878.6" font-size="34" text-anchor="middle" font-family='"Liberation Sans", sans-serif' textLength="53.8" lengthAdjust="spacingAndGlyphs">800</text>
<line x1="170.7" y1="802.70" x2="181.2" y2="802.70" stroke="#000" stroke-width="2.4"/>
<text x="159.2" y="813.90" font-size="34" text-anchor="end" font-family='"Liberation Sans", sans-serif' textLength="45.6" lengthAdjust="spacingAndGlyphs">0.0</text>
<line x1="170.7" y1="647.00" x2="181.2" y2="647.00" stroke="#000" stroke-width="2.4"/>
<text x="159.2" y="658.20" font-size="34" text-anchor="end" font-family='"Liberation Sans", sans-serif' textLength="45.6" lengthAdjust="spacingAndGlyphs">0.5</text>
<line x1="170.7" y1="491.30" x2="181.2" y2="491.30" stroke="#000" stroke-width="2.4"/>
<text x="159.2" y="502.50" font-size="34" text-anchor="end" font-family='"Liberation Sans", sans-serif' textLength="45.6" lengthAdjust="spacingAndGlyphs">1.0</text>
<line x1="170.7" y1="335.60" x2="181.2" y2="335.60" stroke="#000" stroke-width="2.4"/>
<text x="159.2" y="346.80" font-size="34" text-anchor="end" font-family='"Liberation Sans", sans-serif' textLength="45.6" lengthAdjust="spacingAndGlyphs">1.5</text>
<line x1="170.7" y1="179.90" x2="181.2" y2="179.90" stroke="#000" stroke-width="2.4"/>
<text x="159.2" y="191.10" font-size="34" text-anchor="end" font-family='"Liberation Sans", sans-serif' textLength="45.6" lengthAdjust="spacingAndGlyphs">2.0</text>
<text x="492.2" y="61.2" font-size="34.5" font-family='"Liberation Sans", sans-serif' textLength="372.4" lengthAdjust="spacingAndGlyphs">Sgemm on Nezha D1</text>
<text transform="translate(96.6,516.2) rotate(-90)" x="0" y="0" font-size="34" font-family='"Liberation Sans", sans-serif' textLength="113.2" lengthAdjust="spacingAndGlyphs">GFLOPS</text>
<rect x="9.4" y="893.4" width="1351.0" height="97.79999999999995" rx="6" fill="#9a9a9a" stroke="none"/>
<rect x="3.5" y="887.5" width="1351.0" height="97.79999999999995" rx="6" fill="#ffffff" stroke="#cccccc" stroke-width="2.7"/>
<line x1="12.8" y1="912.0" x2="76.2" y2="912.0" stroke="#1f77b4" stroke-width="4.3"/>
<text x="98.7" y="923.0" font-size="32" font-family='"Liberation Sans", sans-serif' textLength="135" lengthAdjust="spacingAndGlyphs">version 0</text>
<line x1="12.8" y1="956.6" x2="76.2" y2="956.6" stroke="#ff7f0e" stroke-width="4.3"/>
<text x="98.7" y="967.6" font-size="32" font-family='"Liberation Sans", sans-serif' textLength="135" lengthAdjust="spacingAndGlyphs">version 1</text>
<line x1="290.2" y1="912.0" x2="353.6" y2="912.0" stroke="#2ca02c" stroke-width="4.3"/>
<text x="376.1" y="923.0" font-size="32" font-family='"Liberation Sans", sans-serif' textLength="135" lengthAdjust="spacingAndGlyphs">version 2</text>
<line x1="290.2" y1="956.6" x2="353.6" y2="956.6" stroke="#d62728" stroke-width="4.3"/>
<text x="376.1" y="967.6" font-size="32" font-family='"Liberation Sans", sans-serif' textLength="135" lengthAdjust="spacingAndGlyphs">version 3</text>
<line x1="567.6" y1="912.0" x2="631.0" y2="912.0" stroke="#9467bd" stroke-width="4.3"/>
<text x="653.5" y="923.0" font-size="32" font-family='"Liberation Sans", sans-serif' textLength="135" lengthAdjust="spacingAndGlyphs">version 4</text>
<line x1="567.6" y1="956.6" x2="631.0" y2="956.6" stroke="#8c564b" stroke-width="4.3"/>
<text x="653.5" y="967.6" font-size="32" font-family='"Liberation Sans", sans-serif' textLength="135" lengthAdjust="spacingAndGlyphs">version 5</text>
<line x1="845.0" y1="912.0" x2="908.4" y2="912.0" stroke="#e377c2" stroke-width="4.3"/>
<text x="930.9" y="923.0" font-size="32" font-family='"Liberation Sans", sans-serif' textLength="135" lengthAdjust="spacingAndGlyphs">version 6</text>
<line x1="845.0" y1="956.6" x2="908.4" y2="956.6" stroke="#7f7f7f" stroke-width="4.3"/>
<text x="930.9" y="967.6" font-size="32" font-family='"Liberation Sans", sans-serif' textLength="135" lengthAdjust="spacingAndGlyphs">version 7</text>
<line x1="1122.4" y1="912.0" x2="1185.8" y2="912.0" stroke="#bcbd22" stroke-width="4.3"/>
<text x="1208.3" y="923.0" font-size="32" font-family='"Liberation Sans", sans-serif' textLength="135" lengthAdjust="spacingAndGlyphs">version 8</text>
<line x1="1122.4" y1="956.6" x2="1185.8" y2="956.6" stroke="#17becf" stroke-width="4.3"/>
<text x="1208.3" y="967.6" font-size="32" font-family='"Liberation Sans", sans-serif' textLength="135" lengthAdjust="spacingAndGlyphs">version 9</text>
</svg>
</body></html>
